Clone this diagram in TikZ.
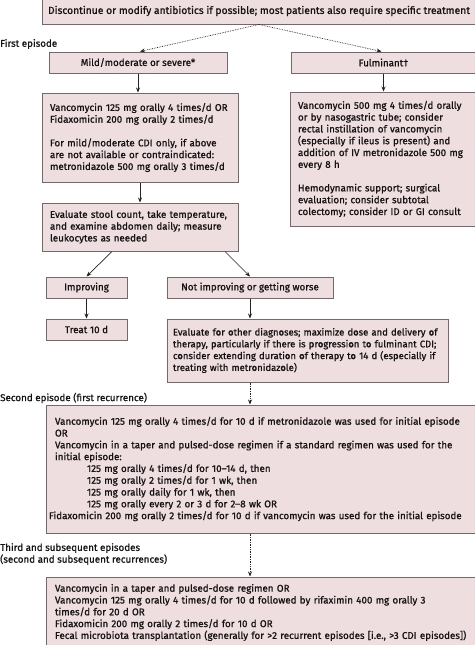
\documentclass[tikz,border=0pt]{standalone}
\usepackage{fontspec}
\setmainfont{Fira Sans}[FakeBold=1.0]
\usetikzlibrary{arrows.meta,calc}
\definecolor{boxfill}{RGB}{239,222,223}
\definecolor{boxline}{RGB}{115,105,105}
\definecolor{arr}{RGB}{35,35,35}
\tikzset{
  box/.style={draw=boxline, fill=boxfill, line width=1pt, inner sep=0pt, font=\fontsize{9.8}{11.8}\selectfont, text=black!92},
  lbox/.style={box, align=left, inner xsep=8pt},
  lab/.style={anchor=west, inner sep=0pt, font=\fontsize{9.8}{11.8}\selectfont, align=left, text=black!92},
  solidarr/.style={draw=arr, line width=0.7pt, -{Stealth[length=5pt,width=4pt]}},
  dotarr/.style={draw=arr, line width=0.7pt, densely dotted, -{Stealth[length=5pt,width=4pt]}}
}
\begin{document}
\begin{tikzpicture}[x=1pt,y=-1pt]
\useasboundingbox (0,0) rectangle (474,645);
\node[box, minimum width=434pt, minimum height=26pt, font=\fontsize{10.3}{11.8}\selectfont] (top) at (259,11) {Discontinue or modify antibiotics if possible; most patients also require specific treatment};
\node[lab] (l1) at (0,44) {First episode};
\node[box, minimum width=178pt, minimum height=21pt] (mild) at (138,62.5) {Mild/moderate or severe*};
\node[box, minimum width=185pt, minimum height=21pt] (ful) at (383.5,62.5) {Fulminant†};
\node[lbox, text width=180pt, minimum height=89pt] (vanc) at (140,137.5) {Vancomycin 125 mg orally 4 times/d OR\\Fidaxomicin 200 mg orally 2 times/d\\[11.8pt]For mild/moderate CDI only, if above\\are not available or contraindicated:\\metronidazole 500 mg orally 3 times/d};
\node[lbox, text width=170pt, minimum height=134pt] (fultext) at (383,159) {Vancomycin 500 mg 4 times/d orally\\or by nasogastric tube; consider\\rectal instillation of vancomycin\\(especially if ileus is present) and\\addition of IV metronidazole 500 mg\\every 8 h\\[11.8pt]Hemodynamic support; surgical\\evaluation; consider subtotal\\colectomy; consider ID or GI consult};
\node[lbox, text width=180pt, minimum height=48pt] (eval) at (140,227) {Evaluate stool count, take temperature,\\and examine abdomen daily; measure\\leukocytes as needed};
\node[box, minimum width=81pt, minimum height=21pt] (impr) at (86.5,287.5) {Improving};
\node[box, minimum width=166pt, minimum height=21pt] (notimp) at (250,287.5) {Not improving or getting worse};
\node[box, minimum width=81pt, minimum height=21pt] (treat) at (86.5,329.5) {Treat 10 d};
\node[lbox, inner xsep=6pt, text width=269pt, minimum height=63pt, font=\fontsize{9.5}{11.8}\selectfont] (other) at (307.5,350.5) {Evaluate for other diagnoses; maximize dose and delivery of\\therapy, particularly if there is progression to fulminant CDI;\\consider extending duration of therapy to 14 d (especially if\\treating with metronidazole)};
\node[lab] (l2) at (0,398) {Second episode (first recurrence)};
\node[box, align=left, inner xsep=9pt, text width=412pt, minimum height=128pt] (second) at (261,469) {Vancomycin 125 mg orally 4 times/d for 10 d if metronidazole was used for initial episode\\OR\\Vancomycin in a taper and pulsed-dose regimen if a standard regimen was used for the\\initial episode:\\\hspace*{32pt}125 mg orally 4 times/d for 10–14 d, then\\\hspace*{32pt}125 mg orally 2 times/d for 1 wk, then\\\hspace*{32pt}125 mg orally daily for 1 wk, then\\\hspace*{32pt}125 mg orally every 2 or 3 d for 2–8 wk OR\\\hspace*{-6pt}Fidaxomicin 200 mg orally 2 times/d for 10 d if vancomycin was used for the initial episode};
\node[lab] (l3) at (0,554) {Third and subsequent episodes\\(second and subsequent recurrences)};
\node[box, align=left, inner xsep=9pt, text width=412pt, minimum height=71pt] (third) at (261,612.5) {Vancomycin in a taper and pulsed-dose regimen OR\\Vancomycin 125 mg orally 4 times/d for 10 d followed by rifaximin 400 mg orally 3\\times/d for 20 d OR\\Fidaxomicin 200 mg orally 2 times/d for 10 d OR\\Fecal microbiota transplantation (generally for >2 recurrent episodes [i.e., >3 CDI episodes])};
\draw[dotarr] (top.south) -- ($(mild.north)+(2,0)$);
\draw[dotarr] (top.south) -- ($(ful.north)+(-2,0)$);
\draw[solidarr] (mild.south) -- (mild.south |- vanc.north);
\draw[solidarr] (ful.south) -- (ful.south |- fultext.north);
\draw[solidarr] (vanc.south) -- (eval.north);
\draw[solidarr] ($(eval.south)+(-28,0)$) -- (impr.north);
\draw[solidarr] ($(eval.south)+(85,0)$) -- (notimp.north);
\draw[solidarr] (impr.south) -- (treat.north);
\draw[solidarr] (notimp.south) -- (notimp.south |- other.north);
\draw[dotarr] (notimp.south |- other.south) -- (notimp.south |- second.north);
\draw[dotarr] (notimp.south |- second.south) -- (notimp.south |- third.north);
\end{tikzpicture}
\end{document}
